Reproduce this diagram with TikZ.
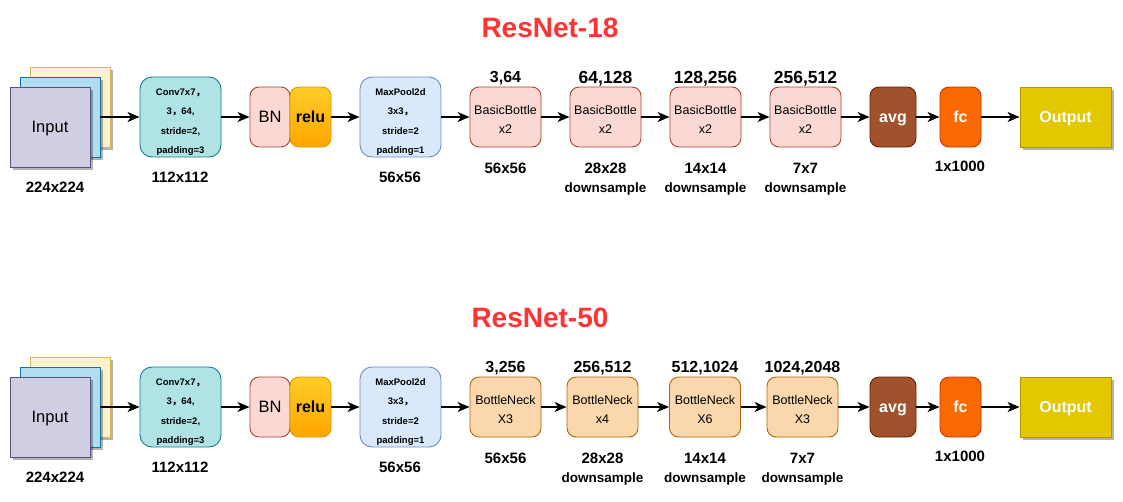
\documentclass[tikz,border=0pt]{standalone}
\usepackage{fontspec}
\setmainfont{Liberation Sans}
\newfontfamily\cjk{Noto Sans CJK SC}
\usetikzlibrary{arrows.meta,shadows}
\definecolor{titlered}{HTML}{FF3333}
\definecolor{inyel}{HTML}{FFF2CC}\definecolor{inyelD}{HTML}{D6B656}
\definecolor{inblue}{HTML}{B1DDF0}\definecolor{inblueD}{HTML}{10739E}
\definecolor{inpur}{HTML}{D0CEE2}\definecolor{inpurD}{HTML}{56517E}
\definecolor{convF}{HTML}{B0E3E6}\definecolor{convD}{HTML}{0E8088}
\definecolor{bnF}{HTML}{FAD9D5}\definecolor{bnD}{HTML}{AE4132}
\definecolor{reluT}{HTML}{FFCD28}\definecolor{reluB}{HTML}{FFA500}\definecolor{reluD}{HTML}{D79B00}
\definecolor{poolF}{HTML}{DAE8FC}\definecolor{poolD}{HTML}{6C8EBF}
\definecolor{bnkF}{HTML}{FAD7AC}\definecolor{bnkD}{HTML}{B46504}
\definecolor{avgF}{HTML}{A0522D}\definecolor{avgD}{HTML}{6D1F00}
\definecolor{fcF}{HTML}{FA6800}\definecolor{fcD}{HTML}{C73500}
\definecolor{outF}{HTML}{E3C800}\definecolor{outD}{HTML}{B09500}
\newcommand\fs[2]{\fontsize{#1}{#2}\selectfont}
% multi-line text, moved down by #1 without changing its reported size
\newcommand\mlines[2]{\raisebox{-#1}[\height][\depth]{\begin{tabular}{@{}c@{}}#2\end{tabular}}}
\tikzset{
  base/.style={draw, line width=0.9pt, inner sep=0pt, align=center},
  shad/.style={drop shadow={shadow xshift=3pt, shadow yshift=-3pt, fill=black, opacity=0.3}},
  inbox/.style={base, shad, minimum width=80pt, minimum height=80pt},
  rbox/.style={base, rounded corners=9pt, minimum height=60pt},
  t16/.style={font=\fs{16.5}{18}, text height=11.8pt, text depth=0pt},
  t16b/.style={font=\bfseries\fs{16}{18}, text height=11.5pt, text depth=0pt},
  bigbox/.style={base, rounded corners=12pt, minimum width=81pt, minimum height=80pt, font=\bfseries\fs{9.5}{19.5}},
  blk/.style={rbox, minimum width=71pt, font=\fs{12.5}{19}},
  basicblk/.style={blk, fill=bnF, draw=bnD},
  neckblk/.style={blk, fill=bnkF, draw=bnkD},
  title/.style={text=titlered, font=\bfseries\fs{28}{30}, text height=20pt, text depth=0pt},
  lbl/.style={font=\bfseries\fs{15}{17}, text height=10.7pt, text depth=0pt},
  lbl16/.style={font=\bfseries\fs{16}{18}, text height=11.5pt, text depth=0pt},
  toplbl/.style={font=\bfseries\fs{17.5}{19}, text height=12.5pt, text depth=0pt},
  dslbl/.style={font=\bfseries\fs{13.5}{15}, text height=9.7pt, text depth=0pt},
  conn/.style={line width=1.5pt, -{Stealth[length=12pt, width=10pt, inset=3.5pt]}},
}
\begin{document}
\begin{tikzpicture}[x=1pt, y=-1pt]
\useasboundingbox (0,0) rectangle (1123,501);
% ================= ResNet-18 =================
\begin{scope}[name prefix=a-]
\node[title] (title) at (550,27) {ResNet-18};
\node[inbox, fill=inyel, draw=inyelD] (inback) at (70,107) {};
\node[inbox, fill=inblue, draw=inblueD] (inmid) at (60,117) {};
\node[inbox, fill=inpur, draw=inpurD, t16] (in) at (50,127) {Input};
\node[lbl] (inlbl) at (55,187) {224x224};
\node[bigbox, fill=convF, draw=convD] (conv) at (180.5,117) {\mlines{3.5pt}{Conv7x7{\cjk ，}\\3{\cjk ，}64,\\stride=2,\\padding=3}};
\node[lbl] (convlbl) at (180,177.5) {112x112};
\node[rbox, fill=bnF, draw=bnD, minimum width=40pt, t16] (bn) at (270,117) {BN};
\node[rbox, top color=reluT, bottom color=reluB, draw=reluD, minimum width=41pt, t16b] (relu) at (310.5,117) {relu};
\node[bigbox, fill=poolF, draw=poolD] (pool) at (400.5,117) {\mlines{3.5pt}{MaxPool2d\\3x3{\cjk ，}\\stride=2\\padding=1}};
\node[lbl] (poollbl) at (400,177.5) {56x56};
\node[basicblk] (b1) at (505.5,117) {\mlines{3pt}{BasicBottle\\x2}};
\node[basicblk] (b2) at (605.5,117) {\mlines{3pt}{BasicBottle\\x2}};
\node[basicblk] (b3) at (705.5,117) {\mlines{3pt}{BasicBottle\\x2}};
\node[basicblk] (b4) at (805.5,117) {\mlines{3pt}{BasicBottle\\x2}};
\node[lbl16] (c1) at (505.5,77) {3,64};
\node[toplbl] (c2) at (605.5,77) {64,128};
\node[toplbl] (c3) at (705.5,77) {128,256};
\node[toplbl] (c4) at (805.5,77) {256,512};
\node[lbl] (s1) at (505.5,168) {56x56};
\node[lbl] (s2) at (605.5,168) {28x28};
\node[lbl] (s3) at (705.5,168) {14x14};
\node[lbl] (s4) at (805.5,168) {7x7};
\node[dslbl] (d2) at (605.5,188) {downsample};
\node[dslbl] (d3) at (705.5,188) {downsample};
\node[dslbl] (d4) at (805.5,188) {downsample};
\node[rbox, fill=avgF, draw=avgD, minimum width=46pt, text=white, t16b] (avg) at (893,117) {avg};
\node[rbox, fill=fcF, draw=fcD, minimum width=41pt, text=white, t16b] (fc) at (960.5,117) {fc};
\node[lbl] (fclbl) at (960,166.5) {1x1000};
\node[base, shad, fill=outF, draw=outD, minimum width=91pt, minimum height=60pt, text=white, t16b] (out) at (1065.5,117) {Output};
\draw[conn] (inmid.east) -- (conv.west);
\draw[conn] (conv.east) -- (bn.west);
\draw[conn] (relu.east) -- (pool.west);
\draw[conn] (pool.east) -- (b1.west);
\draw[conn] (b1.east) -- (b2.west);
\draw[conn] (b2.east) -- (b3.west);
\draw[conn] (b3.east) -- (b4.west);
\draw[conn] (b4.east) -- (avg.west);
\draw[conn] (avg.east) -- (fc.west);
\draw[conn] (fc.east) -- (out.west);
\end{scope}
% ================= ResNet-50 =================
\begin{scope}[yshift=-290pt, name prefix=b-]
\node[title] (title) at (540,27) {ResNet-50};
\node[inbox, fill=inyel, draw=inyelD] (inback) at (70,107) {};
\node[inbox, fill=inblue, draw=inblueD] (inmid) at (60,117) {};
\node[inbox, fill=inpur, draw=inpurD, t16] (in) at (50,127) {Input};
\node[lbl] (inlbl) at (55,187) {224x224};
\node[bigbox, fill=convF, draw=convD] (conv) at (180.5,117) {\mlines{3.5pt}{Conv7x7{\cjk ，}\\3{\cjk ，}64,\\stride=2,\\padding=3}};
\node[lbl] (convlbl) at (180,177.5) {112x112};
\node[rbox, fill=bnF, draw=bnD, minimum width=40pt, t16] (bn) at (270,117) {BN};
\node[rbox, top color=reluT, bottom color=reluB, draw=reluD, minimum width=41pt, t16b] (relu) at (310.5,117) {relu};
\node[bigbox, fill=poolF, draw=poolD] (pool) at (400.5,117) {\mlines{3.5pt}{MaxPool2d\\3x3{\cjk ，}\\stride=2\\padding=1}};
\node[lbl] (poollbl) at (400,177.5) {56x56};
\node[neckblk] (b1) at (505.5,117) {\mlines{3pt}{BottleNeck\\X3}};
\node[neckblk] (b2) at (602.5,117) {\mlines{3pt}{BottleNeck\\x4}};
\node[neckblk] (b3) at (705,117) {\mlines{3pt}{BottleNeck\\X6}};
\node[neckblk] (b4) at (802.5,117) {\mlines{3pt}{BottleNeck\\X3}};
\node[lbl16] (c1) at (505.5,77) {3,256};
\node[lbl16] (c2) at (602.5,77) {256,512};
\node[lbl16] (c3) at (705,77) {512,1024};
\node[lbl16] (c4) at (802.5,77) {1024,2048};
\node[lbl] (s1) at (505.5,168) {56x56};
\node[lbl] (s2) at (602.5,168) {28x28};
\node[lbl] (s3) at (705,168) {14x14};
\node[lbl] (s4) at (802.5,168) {7x7};
\node[dslbl] (d2) at (602.5,188) {downsample};
\node[dslbl] (d3) at (705,188) {downsample};
\node[dslbl] (d4) at (802.5,188) {downsample};
\node[rbox, fill=avgF, draw=avgD, minimum width=46pt, text=white, t16b] (avg) at (893,117) {avg};
\node[rbox, fill=fcF, draw=fcD, minimum width=41pt, text=white, t16b] (fc) at (960.5,117) {fc};
\node[lbl] (fclbl) at (960,166.5) {1x1000};
\node[base, shad, fill=outF, draw=outD, minimum width=91pt, minimum height=60pt, text=white, t16b] (out) at (1065.5,117) {Output};
\draw[conn] (inmid.east) -- (conv.west);
\draw[conn] (conv.east) -- (bn.west);
\draw[conn] (relu.east) -- (pool.west);
\draw[conn] (pool.east) -- (b1.west);
\draw[conn] (b1.east) -- (b2.west);
\draw[conn] (b2.east) -- (b3.west);
\draw[conn] (b3.east) -- (b4.west);
\draw[conn] (b4.east) -- (avg.west);
\draw[conn] (avg.east) -- (fc.west);
\draw[conn] (fc.east) -- (out.west);
\end{scope}
\end{tikzpicture}
\end{document}
